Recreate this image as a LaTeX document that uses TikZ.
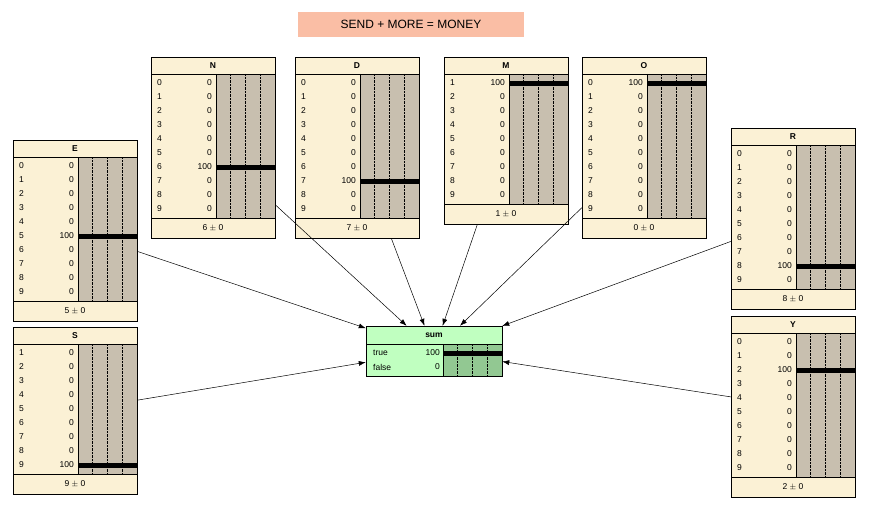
\documentclass[tikz,border=0pt]{standalone}
\usepackage{fontspec}
\setmainfont{Liberation Sans}
\usetikzlibrary{arrows.meta}
\definecolor{panelbg}{RGB}{251,241,213}
\definecolor{barbg}{RGB}{200,191,175}
\definecolor{sumbg}{RGB}{192,255,192}
\definecolor{sumbar}{RGB}{146,200,146}
\definecolor{titlebg}{RGB}{250,190,165}
\tikzset{Panel/.style={%
    shape=rectangle,%
    draw=black,%
    fill=panelbg,%
    minimum width=124pt,%
    inner sep=0pt,%
}}
\tikzset{PanelTitle/.style={%
    font=\fontsize{8.5}{10}\selectfont\bfseries,%
    inner sep=0pt,%
}}
\tikzset{PanelText/.style={%
    font=\fontsize{8.5}{10}\selectfont,%
    inner sep=0pt,%
}}
\tikzset{LinkEdge/.style={%
    -{Latex[length=7pt,width=5pt]},%
    line width=0.5pt,%
}}
\newcommand{\bnPanel}[8]{%
    \pgfmathsetmacro\pH{17+14*(#6-#5+1)+4+20}%
    \pgfmathsetmacro\pB{17+14*(#6-#5+1)+4}%
    \node[Panel, minimum height=\pH pt] (#1) at (#2+62,#3+\pH/2) {};
    \fill[barbg] (#2+65,#3+17) rectangle (#2+124,#3+\pB);
    \foreach \k in {14,29,44}
        \draw[densely dotted] (#2+65+\k,#3+17) -- (#2+65+\k,#3+\pB);
    \draw (#2,#3+17) -- (#2+124,#3+17);
    \draw (#2,#3+\pB) -- (#2+124,#3+\pB);
    \draw (#2+65,#3+17) -- (#2+65,#3+\pB);
    \draw (#2,#3) rectangle (#2+124,#3+\pH);
    \node[PanelTitle] (#1-t) at (#2+62,#3+8.5) {#4};
    \node[PanelText] (#1-f) at (#2+62,#3+\pB+10) {#8};
    \foreach \v [count=\i from 0] in {#5,...,#6} {
        \pgfmathsetmacro\ry{#3+17+9+14*\i}
        \node[PanelText, anchor=west] (#1-s\v) at (#2+6,\ry) {\v};
        \ifnum\v=#7
            \node[PanelText, anchor=east] (#1-p\v) at (#2+61,\ry) {100};
            \draw[line width=5pt] (#2+65,\ry) -- (#2+124,\ry);
        \else
            \node[PanelText, anchor=east] (#1-p\v) at (#2+61,\ry) {0};
        \fi
    }
}

\begin{document}
\begin{tikzpicture}[x=1pt,y=-1pt]
    \useasboundingbox (0,0) rectangle (878,511);
    \node[fill=titlebg, minimum width=226pt, minimum height=25pt, inner sep=0pt,
        font=\fontsize{12}{14}\selectfont] (title) at (411,24.5) {SEND + MORE = MONEY};

    \bnPanel{E}{13}{140}{E}{0}{9}{5}{5 $\pm$ 0}
    \bnPanel{S}{13}{327}{S}{1}{9}{9}{9 $\pm$ 0}
    \bnPanel{N}{151}{57}{N}{0}{9}{6}{6 $\pm$ 0}
    \bnPanel{D}{295}{57}{D}{0}{9}{7}{7 $\pm$ 0}
    \bnPanel{M}{444}{57}{M}{1}{9}{1}{1 $\pm$ 0}
    \bnPanel{O}{582}{57}{O}{0}{9}{0}{0 $\pm$ 0}
    \bnPanel{R}{731}{128}{R}{0}{9}{8}{8 $\pm$ 0}
    \bnPanel{Y}{731}{316}{Y}{0}{9}{2}{2 $\pm$ 0}

    % sum node
    \node[Panel, fill=sumbg, minimum width=136pt, minimum height=50pt] (sum) at (434,351) {};
    \fill[sumbar] (443,344) rectangle (502,376);
    \foreach \k in {14,29,44}
        \draw[densely dotted] (443+\k,344) -- (443+\k,376);
    \draw (366,344) -- (502,344);
    \draw (443,344) -- (443,376);
    \draw (366,326) rectangle (502,376);
    \node[PanelTitle] (sum-t) at (434,335) {sum};
    \node[PanelText, anchor=west] (sum-s1) at (373,353) {true};
    \node[PanelText, anchor=east] (sum-p1) at (440,353) {100};
    \draw[line width=5pt] (443,353) -- (502,353);
    \node[PanelText, anchor=west] (sum-s2) at (373,367) {false};
    \node[PanelText, anchor=east] (sum-p2) at (440,367) {0};

    \foreach \a in {E,S,N,D,M,O,R,Y}
        \draw[LinkEdge] (\a) -- (sum);
\end{tikzpicture}
\end{document}
